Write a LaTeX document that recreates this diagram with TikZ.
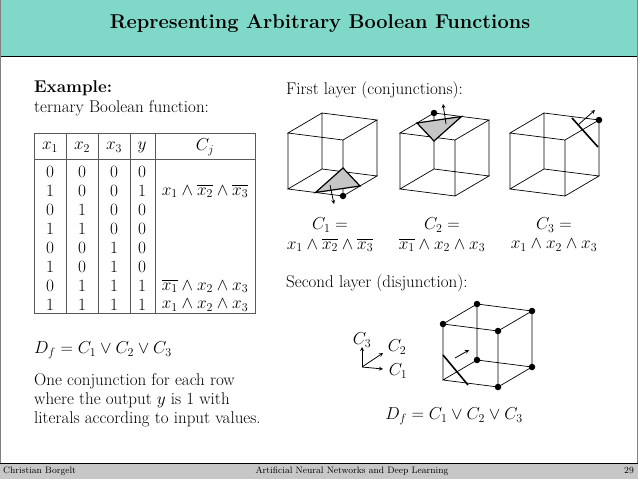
\documentclass[tikz,border=0pt]{standalone}
\usepackage{amsmath}
\usetikzlibrary{calc}
\definecolor{hdr}{RGB}{128,216,200}
\begin{document}
\begin{tikzpicture}[x=1pt,y=-1pt,
 txt/.style={inner sep=0pt,font=\fontsize{17}{20}\selectfont},
 e/.style={line width=0.7pt},
 dot/.style={circle,fill=black,inner sep=0pt,minimum size=6.5pt},
 arr/.style={-stealth,line width=0.8pt}]
\useasboundingbox (0,0) rectangle (638,479);
\fill[white] (0,0) rectangle (638,479);
\fill[hdr] (0,0) rectangle (638,56);
\draw[line width=0.8pt] (0,56) -- (638,56);
\draw[gray] (0.5,0) -- (0.5,479) (637.5,0)--(637.5,479);
\node[txt,font=\fontsize{20}{24}\selectfont\bfseries] (title) at (320,24) {Representing Arbitrary Boolean Functions};
\fill[black!22] (0,463) rectangle (638,479);
\draw[line width=0.8pt] (0,463) -- (638,463);
\node[txt,font=\fontsize{9.3}{10}\selectfont,anchor=west] (fl) at (3,471) {Christian Borgelt};
\node[txt,font=\fontsize{9.3}{10}\selectfont] (fc) at (352,471) {Artificial Neural Networks and Deep Learning};
\node[txt,font=\fontsize{9.3}{10}\selectfont,anchor=east] (fr) at (634,471) {29};
% left text
\node[txt,anchor=west,font=\fontsize{17}{20}\selectfont\bfseries] (ex) at (34,88) {Example:};
\node[txt,anchor=west] (tb) at (34,108) {ternary Boolean function:};
% table
\draw[gray!70!black,line width=0.6pt] (34,133) rectangle (255,313);
\draw[gray!70!black,line width=0.6pt] (34,159)--(255,159) (66,133)--(66,313) (98,133)--(98,313) (130,133)--(130,313) (155,133)--(155,313);
\node[txt] (h1) at (50,147) {$x_1$};
\node[txt] (h2) at (82,147) {$x_2$};
\node[txt] (h3) at (114,147) {$x_3$};
\node[txt] (h4) at (142,147) {$y$};
\node[txt] (h5) at (205,147) {$C_j$};
\foreach \a/\b/\c/\d [count=\i] in {0/0/0/0,1/0/0/1,0/1/0/0,1/1/0/0,0/0/1/0,1/0/1/0,0/1/1/1,1/1/1/1}{
 \node[txt] (ra\i) at (50,{153+19*\i}) {$\a$};
 \node[txt] (rb\i) at (82,{153+19*\i}) {$\b$};
 \node[txt] (rc\i) at (114,{153+19*\i}) {$\c$};
 \node[txt] (rd\i) at (142,{153+19*\i}) {$\d$};
}
\node[txt] (c2) at (205,191) {$x_1\wedge\overline{x_2}\wedge\overline{x_3}$};
\node[txt] (c7) at (205,286) {$\overline{x_1}\wedge x_2\wedge x_3$};
\node[txt] (c8) at (205,305) {$x_1\wedge x_2\wedge x_3$};
\node[txt,anchor=west] (df) at (34,350) {$D_f = C_1\vee C_2\vee C_3$};
\node[txt,anchor=west] (o1) at (34,381) {One conjunction for each row};
\node[txt,anchor=west] (o2) at (34,400) {where the output $y$ is 1 with};
\node[txt,anchor=west] (o3) at (34,419) {literals according to input values.};
% right
\node[txt,anchor=west] (fl1) at (286,90) {First layer (conjunctions):};
\node[txt,anchor=west] (sl) at (286,283) {Second layer (disjunction):};
\def\cube#1#2{% origin x, y
 \begin{scope}[shift={(#1,#2)}]
 \coordinate (A) at (0,0); \coordinate (B) at (55,7); \coordinate (C) at (89,-13); \coordinate (D) at (34,-20);
 \coordinate (A') at (0,-56); \coordinate (B') at (55,-49); \coordinate (C') at (89,-69); \coordinate (D') at (34,-76);
 \draw[e] (A)--(B)--(C)--(D)--cycle (A')--(B')--(C')--(D')--cycle (A)--(A') (B)--(B') (C)--(C') (D)--(D');
 \end{scope}}
% cube 1
\cube{288}{189}
\filldraw[fill=gray!45,line width=1.2pt] ($(A)!0.5!(B)$) -- ($(B)!0.5!(C)$) -- ($(B)!0.5!(B')$) -- cycle;
\node[dot] (d1) at (B) {};
\draw[arr] (330,185) -- (334,204);
\node[txt] (l1a) at (330,225) {$C_1 =$};
\node[txt] (l1b) at (330,245) {$x_1\wedge\overline{x_2}\wedge\overline{x_3}$};
% cube 2
\cube{400}{189}
\filldraw[fill=gray!45,line width=1.2pt] ($(D')!0.5!(A')$) -- ($(D')!0.5!(C')$) -- ($(D')!0.5!(D)$) -- cycle;
\node[dot] (d2) at (D') {};
\draw[arr] (446,124) -- (443,104);
\node[txt] (l2a) at (442,225) {$C_2 =$};
\node[txt] (l2b) at (442,245) {$\overline{x_1}\wedge x_2\wedge x_3$};
% cube 3
\cube{510}{189}
\draw[line width=1.6pt] (572,118) -- (598,147);
\node[dot] (d3) at (C') {};
\draw[arr] (578,125) -- (595,110);
\node[txt] (l3a) at (554,225) {$C_3 =$};
\node[txt] (l3b) at (554,245) {$x_1\wedge x_2\wedge x_3$};
% second layer
\cube{443}{380}
\foreach \p in {B,C,D,A',B',C',D'} \node[dot] at (\p) {};
\draw[line width=1.6pt] (443,355) -- (468,385);
\draw[arr] (455,358) -- (469,350);
\coordinate (o) at (362,367);
\draw[arr] (o) -- (362,347);
\draw[arr] (o) -- (383,353);
\draw[arr] (o) -- (383,369);
\node[txt] (C3) at (362,340) {$C_3$};
\node[txt] (C2) at (397,347) {$C_2$};
\node[txt] (C1) at (398,371) {$C_1$};
\node[txt] (df2) at (454,416) {$D_f = C_1\vee C_2\vee C_3$};
\end{tikzpicture}
\end{document}
